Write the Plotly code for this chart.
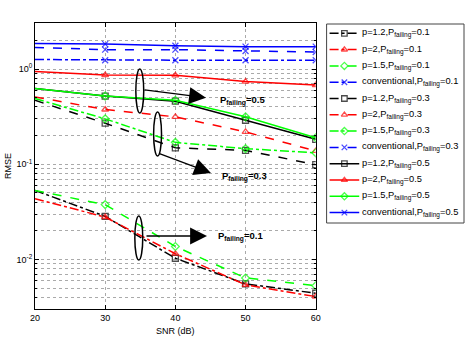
import plotly.graph_objects as go

snr = [20, 30, 40, 50, 60]

# P_failing = 0.1
p12_01 = [0.0532, 0.0284, 0.0103, 0.00555, 0.00442]
p2_01 = [0.0435, 0.0279, 0.0115, 0.00542, 0.00408]
p15_01 = [0.0530, 0.0377, 0.0137, 0.0064, 0.0053]
conv_01 = [1.26, 1.24, 1.24, 1.24, 1.24]
# P_failing = 0.3
p12_03 = [0.47, 0.27, 0.149, 0.14, 0.099]
p2_03 = [0.51, 0.376, 0.315, 0.219, 0.138]
p15_03 = [0.49, 0.30, 0.17, 0.146, 0.132]
conv_03 = [1.69, 1.60, 1.60, 1.55, 1.51]
# P_failing = 0.5
p12_05 = [0.626, 0.52, 0.46, 0.29, 0.183]
p2_05 = [0.946, 0.865, 0.86, 0.74, 0.68]
p15_05 = [0.626, 0.52, 0.47, 0.315, 0.19]
conv_05 = [1.86, 1.83, 1.76, 1.72, 1.72]

series = [
    ("p=1.2,P<sub>failing</sub>=0.1", p12_01, "black", "dashdot", "square-open"),
    ("p=2,P<sub>failing</sub>=0.1", p2_01, "red", "dashdot", "triangle-up-open"),
    ("p=1.5,P<sub>failing</sub>=0.1", p15_01, "#00ff00", "dash", "diamond-open"),
    ("conventional,P<sub>failing</sub>=0.1", conv_01, "blue", "dashdot", "x-thin-open"),
    ("p=1.2,P<sub>failing</sub>=0.3", p12_03, "black", "dash", "square-open"),
    ("p=2,P<sub>failing</sub>=0.3", p2_03, "red", "dash", "triangle-up-open"),
    ("p=1.5,P<sub>failing</sub>=0.3", p15_03, "#00ff00", "dashdot", "diamond-open"),
    ("conventional,P<sub>failing</sub>=0.3", conv_03, "blue", "dash", "x-thin-open"),
    ("p=1.2,P<sub>failing</sub>=0.5", p12_05, "black", "solid", "square-open"),
    ("p=2,P<sub>failing</sub>=0.5", p2_05, "red", "solid", "triangle-up-open"),
    ("p=1.5,P<sub>failing</sub>=0.5", p15_05, "#00ff00", "solid", "diamond-open"),
    ("conventional,P<sub>failing</sub>=0.5", conv_05, "blue", "solid", "x-thin-open"),
]

# layout geometry (pixels)
L, R, T, B = 35, 4, 23, 42
W, H = 474, 351
PW, PH = W - L - R, H - T - B
PLOT_RIGHT = 319
LEG_X0, LEG_X1, LEG_Y0, LEG_Y1 = 330, 469, 24, 223


def xp(px):
    return (px - L) / PW


def yp(py):
    return (H - B - py) / PH


fig = go.Figure()
for name, vals, col, dash, sym in series:
    fig.add_trace(go.Scatter(
        x=snr, y=vals, name=name, mode="lines+markers", showlegend=False,
        line=dict(color=col, dash=dash, width=1.5),
        marker=dict(symbol=sym, size=[0, 6, 6, 6, 6], color=col,
                    line=dict(color=col, width=1.3)),
    ))

# manual legend on a hidden helper axis laid over the legend box (pixel units)
row_h = 16.3
for i, (name, vals, col, dash, sym) in enumerate(series):
    cy = LEG_Y0 + 9.3 + row_h * i
    fig.add_trace(go.Scatter(
        x=[LEG_X0 + 3, LEG_X0 + 18, LEG_X0 + 33], y=[cy, cy, cy],
        xaxis="x2", yaxis="y2", mode="lines+markers", showlegend=False,
        hoverinfo="skip",
        line=dict(color=col, dash=dash, width=1.5),
        marker=dict(symbol=sym, size=[0, 5.5, 0], color=col,
                    line=dict(color=col, width=1.3)),
    ))
    fig.add_annotation(x=LEG_X0 + 34, y=cy, xref="x2", yref="y2", text=name,
                       showarrow=False, xanchor="left", yanchor="middle",
                       font=dict(size=9.3))

minor_vals = [k * 10 ** d for d in (-3, -2, -1, 0) for k in range(2, 10)]
minor_vals = [v for v in minor_vals if 0.003 <= v <= 3.05]

font = "Liberation Sans, Arial, sans-serif"
fig.update_layout(
    width=W, height=H,
    margin=dict(l=L, r=R, t=T, b=B),
    paper_bgcolor="white", plot_bgcolor="white",
    font=dict(family=font, size=9, color="black"),
    showlegend=False,
    xaxis=dict(domain=[0, xp(PLOT_RIGHT)], range=[20, 60], tickvals=[20, 30, 40, 50, 60],
               showline=True, linecolor="black", linewidth=1, mirror="ticks",
               ticks="inside", ticklen=4, tickcolor="black",
               showgrid=True, gridcolor="#aaaaaa", griddash="dot", gridwidth=1,
               zeroline=False, tickfont=dict(size=9),
               title=dict(text="SNR (dB)", standoff=5, font=dict(size=9))),
    yaxis=dict(type="log", range=[-2.52, 0.484],
               tickvals=[0.01, 0.1, 1],
               ticktext=["10<sup>-2</sup>", "10<sup>-1</sup>", "10<sup>0</sup>"],
               showline=True, linecolor="black", linewidth=1, mirror="ticks",
               ticks="inside", ticklen=4, tickcolor="black",
               showgrid=True, gridcolor="#aaaaaa", griddash="dot", gridwidth=1,
               minor=dict(tickmode="array", tickvals=minor_vals, ticks="inside",
                          ticklen=2, tickcolor="black", showgrid=True,
                          gridcolor="#aaaaaa", griddash="dot", gridwidth=1),
               zeroline=False, tickfont=dict(size=9),
               title=dict(text="RMSE", standoff=3, font=dict(size=9))),
    xaxis2=dict(domain=[xp(LEG_X0), xp(LEG_X1)], range=[LEG_X0, LEG_X1],
                visible=False, fixedrange=True),
    yaxis2=dict(domain=[yp(LEG_Y1), yp(LEG_Y0)], range=[LEG_Y1, LEG_Y0],
                visible=False, fixedrange=True, anchor="x2"),
)

# legend box
fig.add_shape(type="rect", xref="paper", yref="paper",
              x0=xp(LEG_X0), x1=xp(LEG_X1), y0=yp(LEG_Y1), y1=yp(LEG_Y0),
              line=dict(color="#444", width=1), layer="below")

# ellipses (pixel positions converted to paper)
ellipses = [(137, 145, 113, 69), (155, 163, 156, 112), (136, 144, 260, 216)]
for x0, x1, y0, y1 in ellipses:
    fig.add_shape(type="circle", xref="paper", yref="paper",
                  x0=xp(x0), x1=xp(x1), y0=yp(y0), y1=yp(y1),
                  line=dict(color="black", width=1.5))

# arrows: tip position, tail pixel offsets
arrows = [(208, 97.7, -63, -8), (213, 173, -53, -20), (209, 236, -62, 0)]
for x, y, ax, ay in arrows:
    fig.add_annotation(x=xp(x), y=yp(y), xref="paper", yref="paper", ax=ax, ay=ay,
                       axref="pixel", ayref="pixel", showarrow=True, text="",
                       arrowhead=2, arrowsize=2.6, arrowwidth=1.3, arrowcolor="black")

labels = [("0.5", 220, 100), ("0.3", 222, 176), ("0.1", 218, 236)]
for val, px, py in labels:
    fig.add_annotation(x=xp(px), y=yp(py), xref="paper", yref="paper",
                       text="<b>P<sub>failing</sub>=" + val + "</b>", showarrow=False,
                       xanchor="left", yanchor="middle", font=dict(size=9.5))

fig.write_html("out.html")
